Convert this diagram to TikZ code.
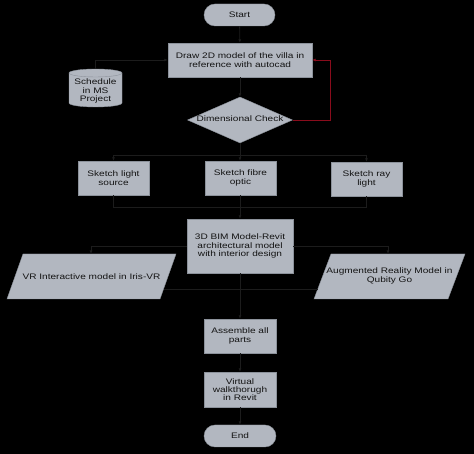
\documentclass[tikz,border=0pt]{standalone}
\usepackage{fontspec}
\setmainfont[FakeStretch=1.26]{Liberation Sans}
\usetikzlibrary{arrows.meta,shapes.geometric}
\definecolor{boxfill}{HTML}{B2B7C0}
\definecolor{boxline}{HTML}{8C929B}
\definecolor{conncol}{HTML}{1C1C1C}
\definecolor{fbcol}{HTML}{8A0C1C}
\definecolor{txtcol}{HTML}{141414}
\begin{document}
\begin{tikzpicture}[x=1pt,y=1pt,
  font=\fontsize{8}{8.3}\selectfont,
  procbox/.style={draw=boxline, line width=0.4pt, fill=boxfill, text=txtcol, align=center, inner sep=0pt},
  termbox/.style={procbox, rounded corners=11pt},
  lbl/.style={text=txtcol, align=center, inner sep=0pt},
  shapeline/.style={draw=boxline, line width=0.4pt, fill=boxfill},
  conn/.style={draw=conncol, line width=0.8pt},
  arr/.style={conn, -{Latex[length=3.5pt,width=3pt]}},
  fbline/.style={draw=fbcol, line width=0.8pt, -{Latex[length=3.5pt,width=3pt]}}]
\fill[black] (0,0) rectangle (474,454);
\useasboundingbox (0,0) rectangle (474,454);

% nodes
\node[termbox, minimum width=71pt, minimum height=22pt] (start) at (239.5,439) {Start};
\node[procbox, minimum width=144pt, minimum height=34pt] (draw) at (240,394) {Draw 2D model of the villa in\\reference with autocad};

% cylinder
\filldraw[shapeline] (69,381) -- (69,351) arc[start angle=180,end angle=360,x radius=26.5,y radius=4] -- (122,381) arc[start angle=0,end angle=180,x radius=26.5,y radius=4] -- cycle;
\draw[boxline, line width=0.4pt] (69,381) arc[start angle=180,end angle=360,x radius=26.5,y radius=4];
\node[inner sep=0pt, minimum width=53pt, minimum height=38pt] (sched) at (95.5,366) {};
\node[lbl] (schedtxt) at (95.5,363) {Schedule\\in MS\\Project};

\node[diamond, shapeline, minimum width=105pt, minimum height=46pt, inner sep=0pt] (dim) at (240,334) {};
\node[lbl] (dimtxt) at (240,335) {Dimensional Check};

\node[procbox, minimum width=71pt, minimum height=34pt] (s1) at (113.5,276) {Sketch light\\source};
\node[procbox, minimum width=71pt, minimum height=34pt] (s2) at (240.5,276) {Sketch fibre\\optic};
\node[procbox, minimum width=71pt, minimum height=34pt] (s3) at (366.5,275) {Sketch ray\\light};

\node[procbox, minimum width=106pt, minimum height=54pt] (bim) at (240,208) {3D BIM Model-Revit\\architectural model\\with interior design};

% parallelograms
\filldraw[shapeline] (7,155) -- (160,155) -- (176,200) -- (23,200) -- cycle;
\node[lbl] (vr) at (91.5,177) {VR Interactive model in Iris-VR};
\filldraw[shapeline] (314,155) -- (448,155) -- (465,200) -- (331,200) -- cycle;
\node[lbl] (ar) at (389.5,178) {Augmented Reality Model in\\Qubity Go};

\node[procbox, minimum width=72pt, minimum height=34pt] (asm) at (240,118) {Assemble all\\parts};
\node[procbox, minimum width=72pt, minimum height=35pt] (virt) at (240,64.5) {Virtual\\walkthorugh\\in Revit};
\node[termbox, minimum width=72pt, minimum height=22pt] (end) at (240,18) {End};

% coordinates
\coordinate (fbc) at (330,334);
\coordinate (split) at (240,299);
\coordinate (merge) at (240,247);
\coordinate (vrtop) at (91,200);
\coordinate (artop) at (388,200);
\coordinate (vrr) at (163.6,165);
\coordinate (arl) at (317.8,165);

% connectors
\draw[arr] (start) -- (draw);
\draw[arr] (draw) -- (dim);
\draw[arr] (sched.north) |- (draw.west);
\draw[fbline] (dim.east) -- (fbc) |- (draw.east);
\draw[conn] (dim.south) -- (split);
\draw[arr] (split) -| (s1.north);
\draw[arr] (split) -| (s3.north);
\draw[arr] (split) -- (s2.north -| split);
\draw[conn] (s1.south) |- (merge);
\draw[conn] (s3.south) |- (merge);
\draw[conn] (s2.south -| merge) -- (merge);
\draw[arr] (merge) -- (bim.north);
\draw[arr] (bim.west) -| (vrtop);
\draw[arr] (bim.east) -| (artop);
\draw[conn] (vrr) -- (arl);
\draw[arr] (bim.south) -- (asm.north);
\draw[arr] (asm) -- (virt);
\draw[arr] (virt) -- (end);
\end{tikzpicture}
\end{document}
